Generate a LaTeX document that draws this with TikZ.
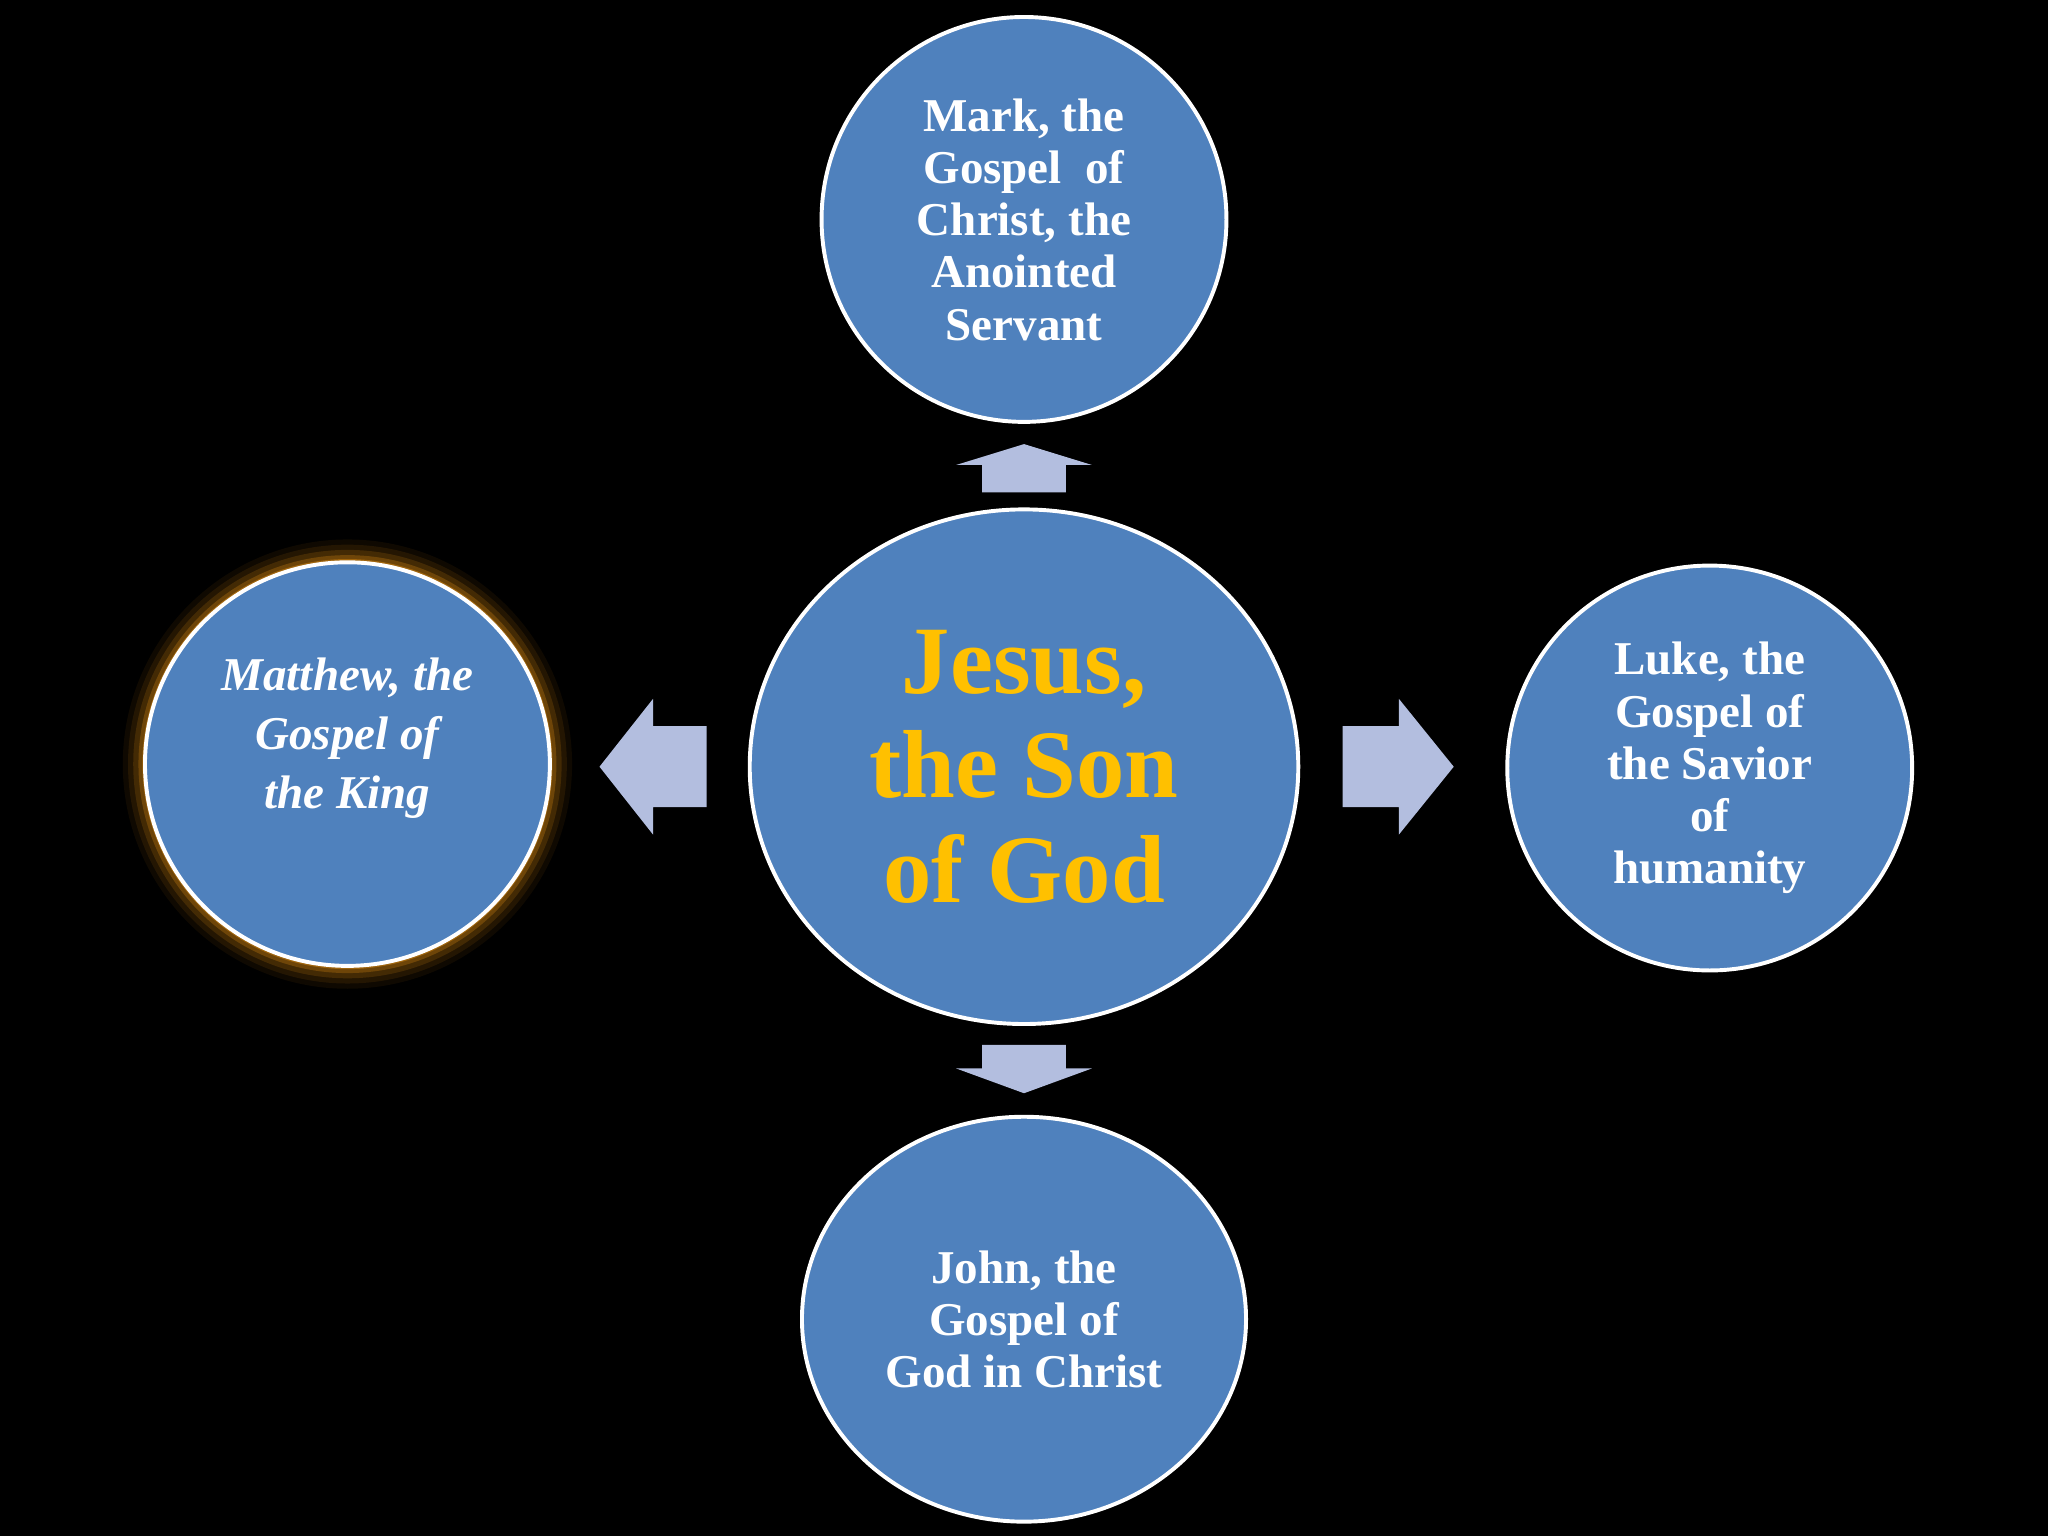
\documentclass[tikz,border=0pt]{standalone}
\usepackage{fontspec}
\setmainfont{Liberation Serif}
\usetikzlibrary{shapes.geometric}
\definecolor{cblue}{HTML}{4F81BD}
\definecolor{carrow}{HTML}{B3BEDF}
\definecolor{cgold}{HTML}{FFC000}
\definecolor{cglow}{HTML}{C07A10}
\tikzset{
 bub/.style={ellipse,fill=cblue,draw=white,line width=3pt,inner sep=0pt,align=center,text=white,font=\bfseries\fontsize{36}{40}\selectfont},
 arr/.style={fill=carrow,draw=none}
}
\begin{document}
\begin{tikzpicture}[x=1pt,y=-1pt]
\fill[black] (0,0) rectangle (1568,1176);
\useasboundingbox (0,0) rectangle (1568,1176);
% glow
\foreach \r/\o in {172/0.08,168/0.12,164/0.2,160/0.35,157/0.6}
  \fill[cglow,opacity=\o] (266,585) circle (\r);
\node[bub,minimum width=310,minimum height=310] (mark) at (784,168) {Mark, the\\Gospel~ of\\Christ, the\\Anointed\\Servant};
\node[bub,minimum width=420,minimum height=394,text=cgold,font=\bfseries\fontsize{74}{80}\selectfont] (c) at (784,587) {Jesus,\\the Son\\of God};
\node[bub,minimum width=310,minimum height=309,font=\bfseries\itshape\fontsize{36}{45}\selectfont] (mat) at (266,585) {};
\node[text=white,align=center,font=\bfseries\itshape\fontsize{36}{45}\selectfont] (matt) at (266,565) {Matthew, the\\Gospel of\\the King};
\node[bub,minimum width=310,minimum height=310] (luke) at (1309,588) {Luke, the\\Gospel of\\the Savior\\of\\humanity};
\node[bub,minimum width=340,minimum height=310] (john) at (784,1010) {John, the\\Gospel of\\God in Christ};
% arrows
\fill[arr] (752,377) -- (752,356) -- (732,356) -- (784,340) -- (836,356) -- (816,356) -- (816,377) -- cycle;
\fill[arr] (752,800) -- (752,818) -- (732,818) -- (784,837) -- (836,818) -- (816,818) -- (816,800) -- cycle;
\fill[arr] (541,556) -- (500,556) -- (500,535) -- (459,587) -- (500,639) -- (500,618) -- (541,618) -- cycle;
\fill[arr] (1028,556) -- (1071,556) -- (1071,535) -- (1113,587) -- (1071,639) -- (1071,618) -- (1028,618) -- cycle;
\end{tikzpicture}
\end{document}
